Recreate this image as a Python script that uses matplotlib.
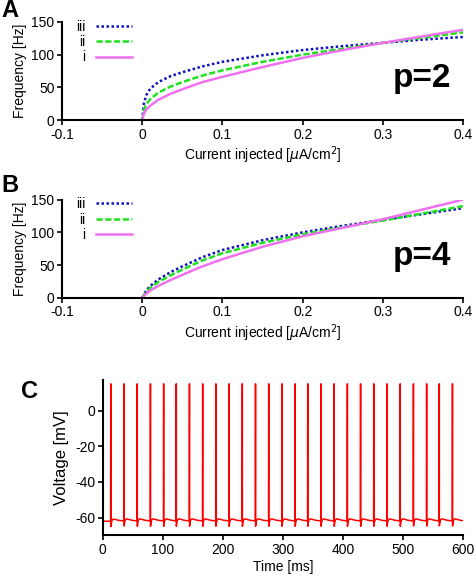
import numpy as np
import matplotlib.pyplot as plt

plt.rcParams['font.family'] = ['Liberation Sans', 'DejaVu Sans']
plt.rcParams['axes.unicode_minus'] = False

# F-I curves (current in uA/cm2, frequency in Hz)
current = [0.0, 0.002, 0.005, 0.01, 0.02, 0.035, 0.05, 0.075, 0.1, 0.15, 0.2, 0.25, 0.3, 0.35, 0.4]
a_iii = [0, 25, 38, 48, 58, 67, 73, 82, 89, 99, 107, 113, 118, 123, 127]
a_ii = [0, 15, 24, 32, 42, 51, 58, 68, 76, 89, 100, 109, 118, 126, 134]
a_i = [0, 10, 16, 22, 31, 40, 47, 58, 66, 81, 95, 107, 118, 128, 138]
b_iii = [0, 5, 11, 18, 28, 39, 48, 62, 73, 88, 100, 110, 119, 128, 137]
b_ii = [0, 4, 9, 15, 24, 34, 43, 57, 68, 84, 97, 108, 118, 129, 140]
b_i = [0, 3, 6, 11, 18, 27, 35, 48, 59, 78, 94, 107, 120, 135, 150]

# spike times in panel C (ms)
spike_times = [13, 35, 57, 79, 101, 122, 144, 166, 188, 210, 232, 254, 276, 298,
               320, 341, 363, 385, 407, 429, 451, 473, 495, 517, 539, 560, 582]
v_rest, v_peak, v_ahp = -62, 15, -65

fig = plt.figure(figsize=(4.74, 5.77), dpi=100)


def style(ax):
    for s in ['top', 'right']:
        ax.spines[s].set_visible(False)
    for s in ['left', 'bottom']:
        ax.spines[s].set_linewidth(1.5)
    ax.tick_params(labelsize=10, width=1.2, pad=2)


def fi_panel(rect, iii, ii, i, ptext, letter, ly):
    ax = fig.add_axes(rect)
    ax.plot(current, iii, color='#1010c0', ls=(0, (1, 1)), lw=1.8, label='iii')
    ax.plot(current, ii, color='#20e020', ls=(0, (2.5, 1)), lw=1.8, label='ii')
    ax.plot(current, i, color='#f070f0', ls='-', lw=1.8, label='i')
    ax.set_xlim(-0.1, 0.4)
    ax.set_ylim(0, 150)
    ax.set_xticks([-0.1, 0, 0.1, 0.2, 0.3, 0.4])
    ax.set_xticklabels(['-0.1', '0', '0.1', '0.2', '0.3', '0.4'])
    ax.set_yticks([0, 50, 100, 150])
    style(ax)
    ax.set_xlabel('Current injected [$\\mu$A/cm$^2$]', fontsize=10, labelpad=2)
    ax.set_ylabel('Frequency [Hz]', fontsize=10, labelpad=3)
    leg = ax.legend(loc='upper left', bbox_to_anchor=(0.02, 1.08), frameon=False,
                    markerfirst=False, fontsize=10, handlelength=2.6,
                    labelspacing=0.1, borderaxespad=0)
    ax.text(0.97, 0.42, ptext, transform=ax.transAxes, ha='right', va='center',
            fontsize=24, fontweight='bold')
    fig.text(0.003, ly, letter, fontsize=17, fontweight='bold', va='center')
    return ax


fi_panel([0.131, 0.792, 0.846, 0.170], a_iii, a_ii, a_i, 'p=2', 'A', 0.982)
fi_panel([0.131, 0.484, 0.846, 0.170], b_iii, b_ii, b_i, 'p=4', 'B', 0.678)

# voltage trace built around the spike times
t = np.arange(0, 600, 0.05)
v = np.full_like(t, float(v_rest))
for st in spike_times:
    d = t - st
    up = (d >= 0) & (d < 0.4)
    v[up] = v_peak
    post = d >= 0.4
    v[post] += (v_ahp - v_rest) * np.exp(-(d[post] - 0.4) / 1.5) \
        + 2.5 * (np.exp(-(d[post] - 0.4) / 8) - np.exp(-(d[post] - 0.4) / 1.5))
v = np.minimum(v, v_peak)

ax = fig.add_axes([0.217, 0.072, 0.760, 0.269])
ax.plot(t, v, color='red', lw=1.1)
ax.set_xlim(0, 600)
ax.set_ylim(-70, 17)
ax.set_xticks(range(0, 601, 100))
ax.set_yticks([-60, -40, -20, 0])
style(ax)
ax.set_xlabel('Time [ms]', fontsize=10, labelpad=2)
ax.set_ylabel('Voltage [mV]', fontsize=12, labelpad=4)
fig.text(0.045, 0.322, 'C', fontsize=17, fontweight='bold', va='center')

fig.savefig('out.png', dpi=100)
